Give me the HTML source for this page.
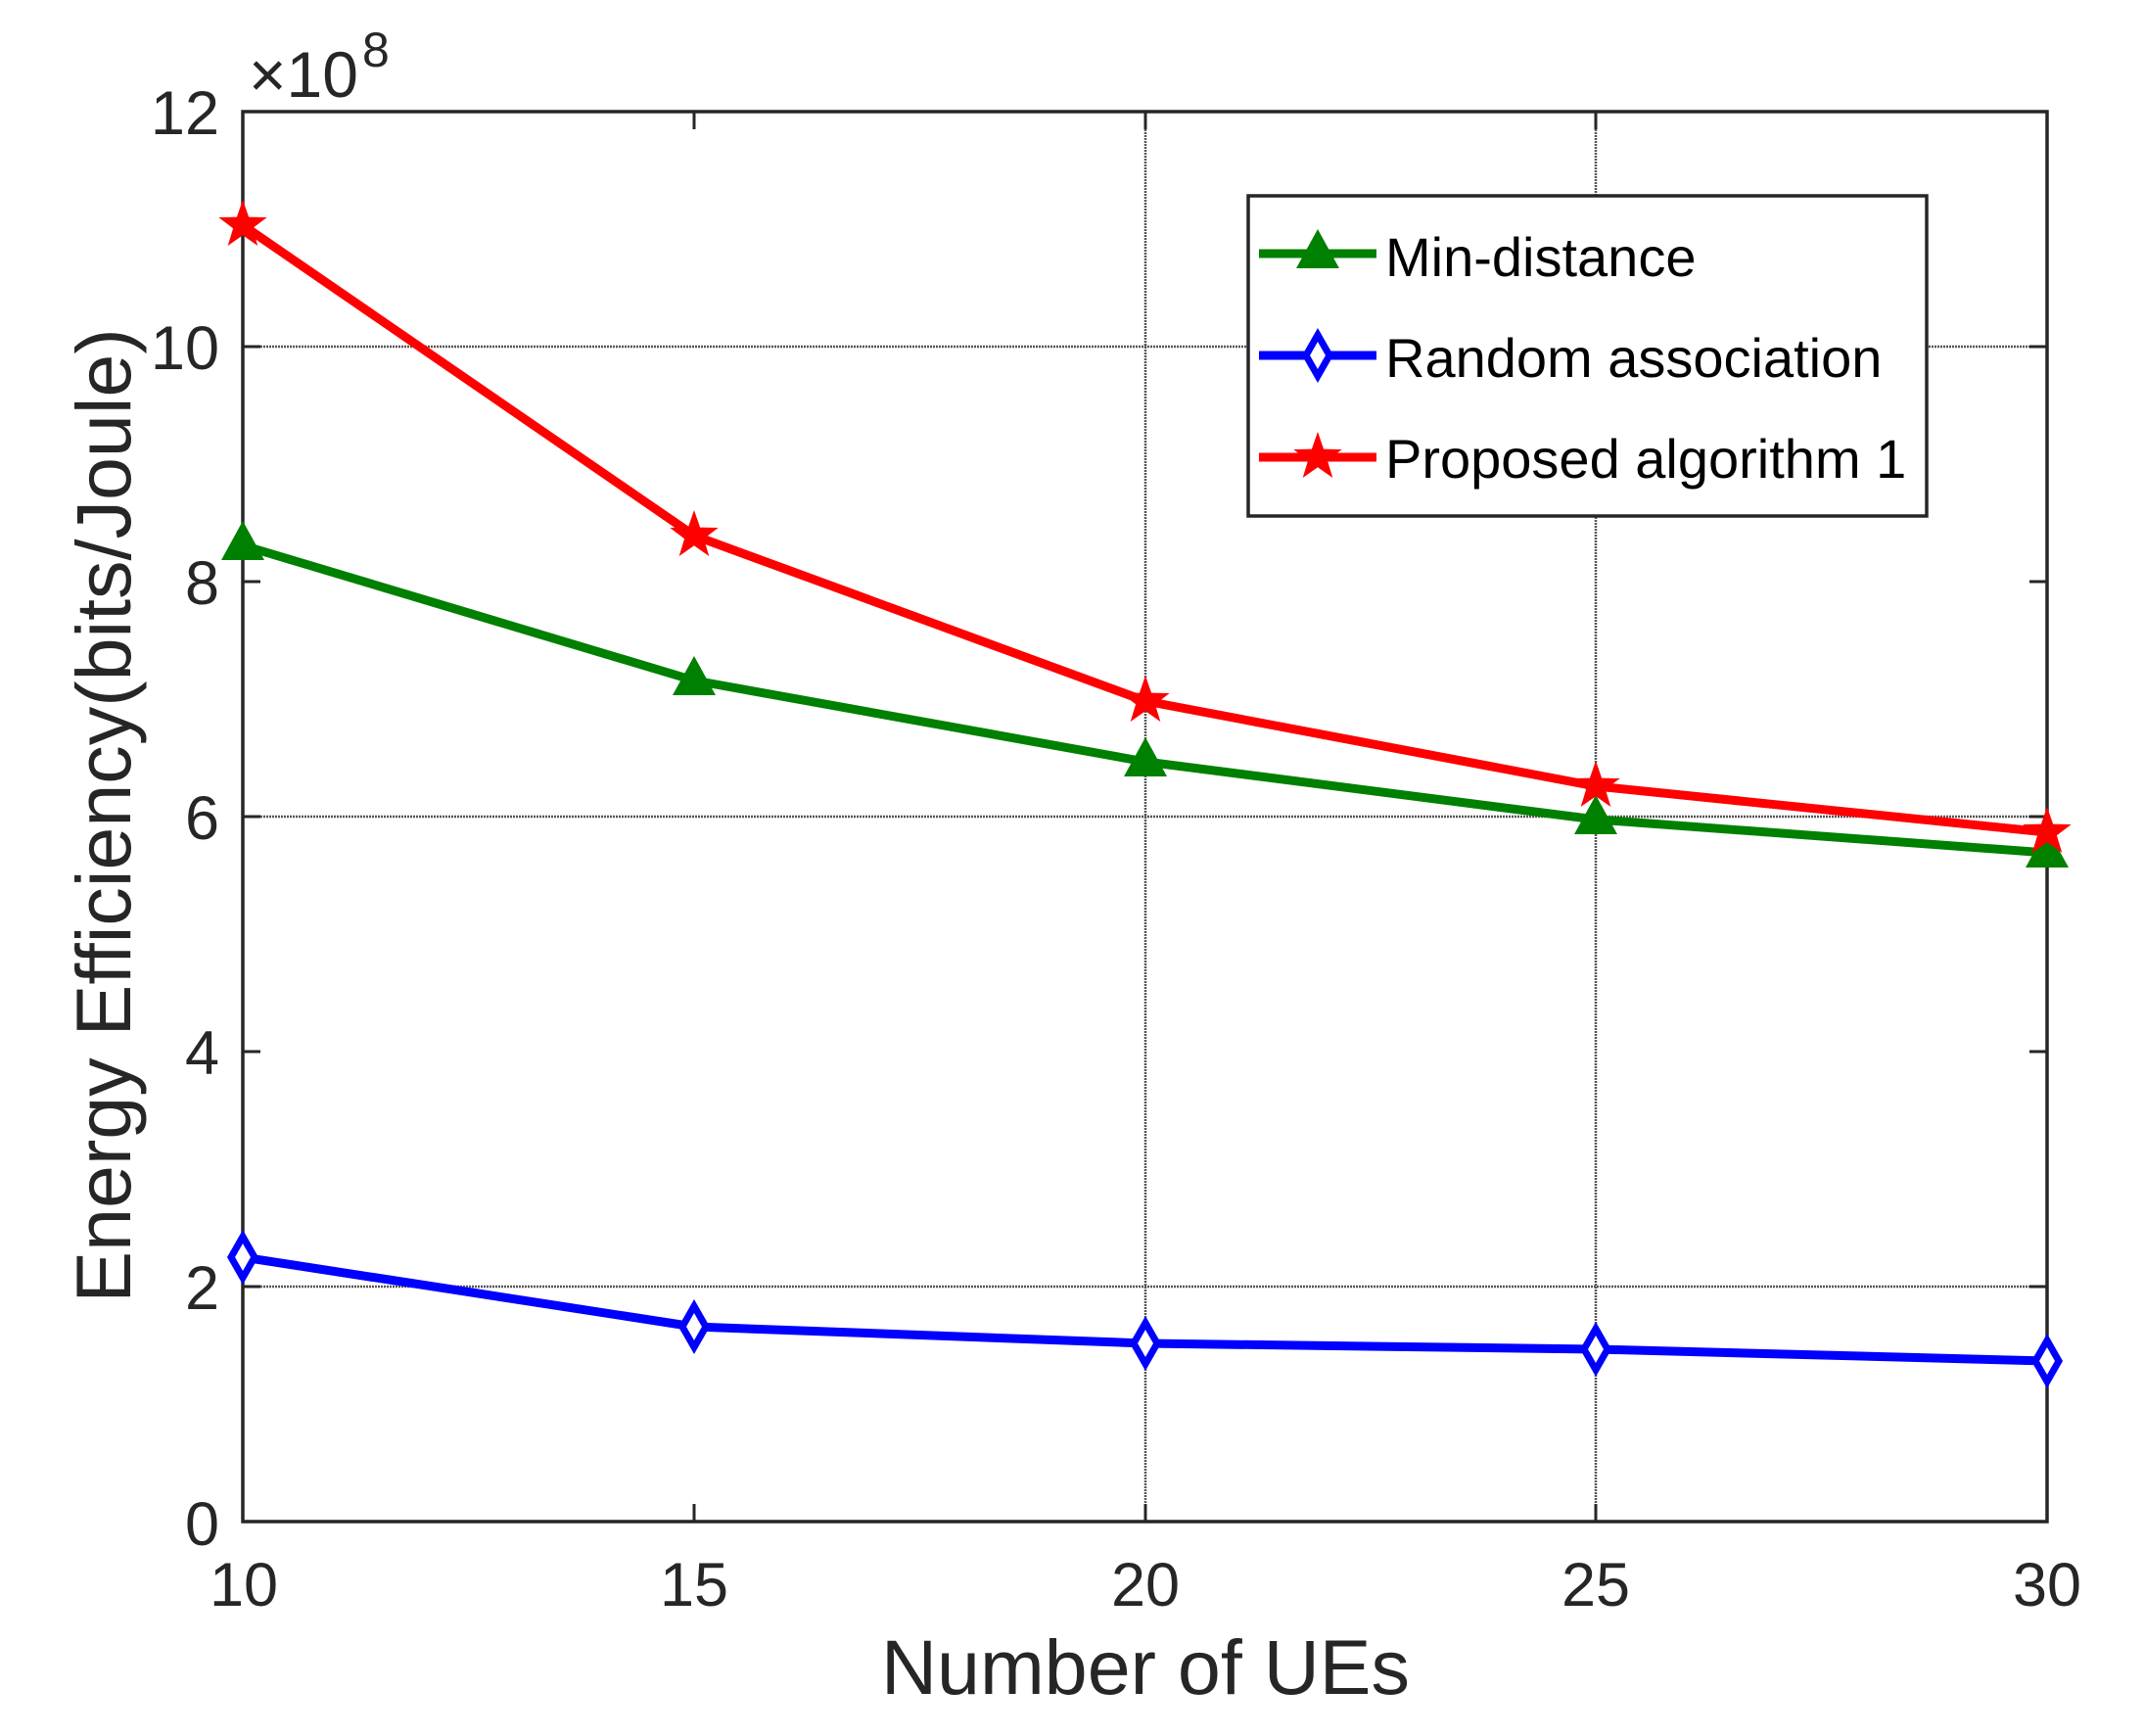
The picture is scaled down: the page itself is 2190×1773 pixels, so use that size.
<!DOCTYPE html>
<html><head><meta charset="utf-8"><style>
html,body{margin:0;padding:0;background:#fff;}
svg{display:block;}
text{font-family:"Liberation Sans",Arial,sans-serif;fill:#262626;}
</style></head><body>
<svg width="2190" height="1773" viewBox="0 0 2190 1773" xmlns="http://www.w3.org/2000/svg">
<defs>
<polygon id="star" points="0,-26 6.1,-8.4 24.7,-8 9.9,3.2 15.3,21 0,10.3 -15.3,21 -9.9,3.2 -24.7,-8 -6.1,-8.4" fill="#ff0000"/>
<polygon id="tri" points="0,-25 22,15 -22,15" fill="#008000"/>
<polygon id="dia" points="0,-21 12,0 0,21 -12,0" fill="#fff" stroke="#0000ff" stroke-width="7"/>
</defs>
<rect width="2190" height="1773" fill="#fff"/>
<g stroke="#555" stroke-width="2.5" stroke-dasharray="2,1">
<line x1="248" y1="354" x2="2091" y2="354"/>
<line x1="248" y1="834" x2="2091" y2="834"/>
<line x1="248" y1="1314" x2="2091" y2="1314"/>
<line x1="1170" y1="114" x2="1170" y2="1554"/>
<line x1="1630" y1="114" x2="1630" y2="1554"/>
</g>
<rect x="248" y="114" width="1843" height="1440" fill="none" stroke="#262626" stroke-width="3.5"/>
<g stroke="#262626" stroke-width="3">
<line x1="248" y1="354" x2="266" y2="354"/><line x1="2091" y1="354" x2="2073" y2="354"/>
<line x1="248" y1="594" x2="266" y2="594"/><line x1="2091" y1="594" x2="2073" y2="594"/>
<line x1="248" y1="834" x2="266" y2="834"/><line x1="2091" y1="834" x2="2073" y2="834"/>
<line x1="248" y1="1074" x2="266" y2="1074"/><line x1="2091" y1="1074" x2="2073" y2="1074"/>
<line x1="248" y1="1314" x2="266" y2="1314"/><line x1="2091" y1="1314" x2="2073" y2="1314"/>
<line x1="709" y1="1554" x2="709" y2="1536"/><line x1="709" y1="114" x2="709" y2="132"/>
<line x1="1170" y1="1554" x2="1170" y2="1536"/><line x1="1170" y1="114" x2="1170" y2="132"/>
<line x1="1630" y1="1554" x2="1630" y2="1536"/><line x1="1630" y1="114" x2="1630" y2="132"/>
</g>
<g font-size="63" text-anchor="end">
<text x="224" y="137">12</text>
<text x="224" y="377">10</text>
<text x="224" y="617">8</text>
<text x="224" y="857">6</text>
<text x="224" y="1097">4</text>
<text x="224" y="1337">2</text>
<text x="224" y="1578">0</text>
</g>
<g font-size="63" text-anchor="middle">
<text x="249" y="1640">10</text>
<text x="709" y="1640">15</text>
<text x="1170" y="1640">20</text>
<text x="1630" y="1640">25</text>
<text x="2091" y="1640">30</text>
</g>
<text x="254" y="99" font-size="66">×10</text>
<text x="370" y="68" font-size="50">8</text>
<text x="1170" y="1730" font-size="79" text-anchor="middle">Number of UEs</text>
<text transform="translate(133,833) rotate(-90)" font-size="79" text-anchor="middle">Energy Efficiency(bits/Joule)</text>
<polyline fill="none" stroke="#0000ff" stroke-width="9" stroke-linejoin="round" points="248,1284 709,1355 1170,1372 1630,1378 2091,1390"/>
<polyline fill="none" stroke="#008000" stroke-width="9" stroke-linejoin="round" points="248,557 709,695 1170,778 1630,837 2091,871"/>
<polyline fill="none" stroke="#ff0000" stroke-width="9" stroke-linejoin="round" points="248,230 709,547 1170,716 1630,803 2091,850"/>
<use href="#dia" x="248" y="1284"/><use href="#dia" x="709" y="1355"/><use href="#dia" x="1170" y="1372"/><use href="#dia" x="1630" y="1378"/><use href="#dia" x="2091" y="1390"/>
<use href="#tri" x="248" y="557"/><use href="#tri" x="709" y="695"/><use href="#tri" x="1170" y="778"/><use href="#tri" x="1630" y="837"/><use href="#tri" x="2091" y="871"/>
<use href="#star" x="248" y="230"/><use href="#star" x="709" y="547"/><use href="#star" x="1170" y="716"/><use href="#star" x="1630" y="803"/><use href="#star" x="2091" y="850"/>
<rect x="1275" y="200" width="693" height="327" fill="#fff" stroke="#262626" stroke-width="3.5"/>
<line x1="1286" y1="259" x2="1406" y2="259" stroke="#008000" stroke-width="9"/>
<use href="#tri" x="1346" y="259"/>
<line x1="1286" y1="363" x2="1406" y2="363" stroke="#0000ff" stroke-width="9"/>
<use href="#dia" x="1346" y="363"/>
<line x1="1286" y1="467" x2="1406" y2="467" stroke="#ff0000" stroke-width="9"/>
<use href="#star" x="1346" y="467"/>
<g font-size="56">
<text x="1415" y="282" style="fill:#000">Min-distance</text>
<text x="1415" y="385" style="fill:#000">Random association</text>
<text x="1415" y="488" style="fill:#000">Proposed algorithm 1</text>
</g>
</svg>
</body></html>
